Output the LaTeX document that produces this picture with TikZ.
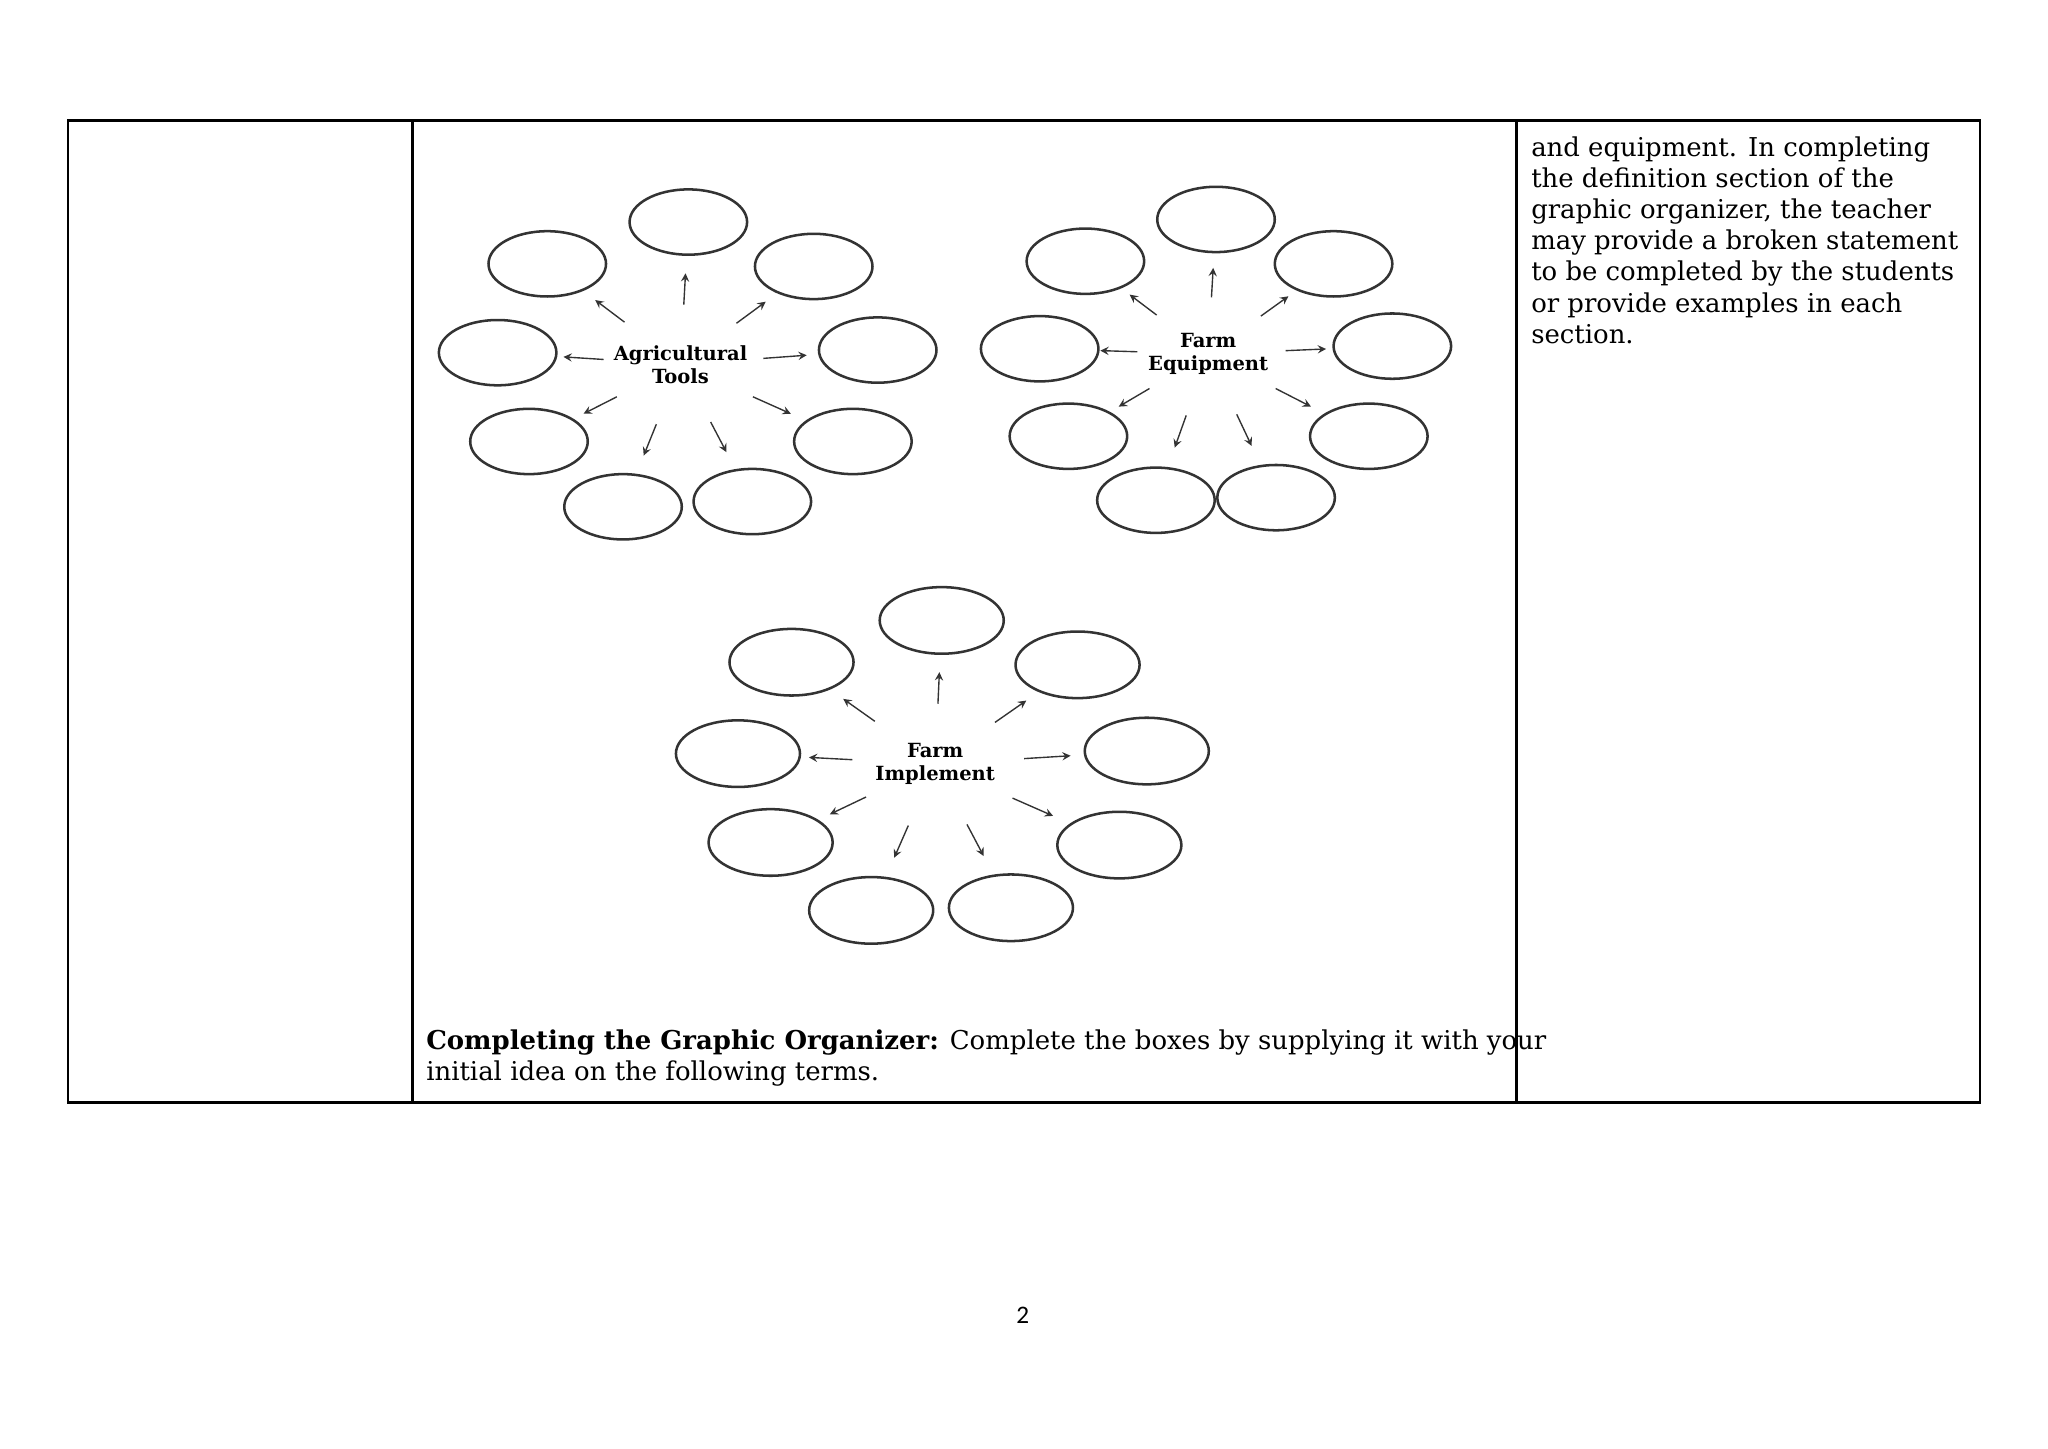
\documentclass[tikz,border=0pt]{standalone}
\usepackage{fontspec}
\setmainfont{DejaVu Serif}
\newfontfamily\pagefont{Carlito}
\usetikzlibrary{shapes.geometric,calc}
\tikzset{
 bubble/.style={draw=black!80,ellipse,line width=1.1pt,minimum width=1.8cm,minimum height=1cm},
 hub/.style={font=\fontsize{8.5}{10}\selectfont\bfseries,align=center},
 spoke/.style={->,>=stealth,line width=0.6pt,black!80},
 body/.style={font=\fontsize{11.3}{13.6}\selectfont,align=left,anchor=north west,inner sep=0pt}
}
\begin{document}
\begin{tikzpicture}[x=0.02cm,y=0.02cm]
\useasboundingbox (0,0) rectangle (1568,-1108.7);
\fill[white] (0,0) rectangle (1568,-1108.7);
% table
\draw[line width=1.2pt] (52,-92) rectangle (1516,-844);
\draw[line width=1.2pt] (316,-92) -- (316,-844);
\draw[line width=1.2pt] (1161,-92) -- (1161,-844);
% clusters
\node[hub] (c1) at (521,-279) {Agricultural\\Tools};
\node[hub] (c2) at (925,-271) {Farm\\Equipment};
\node[hub] (c3) at (716,-585) {Farm\\Implement};
\foreach \i/\x/\y in {1/527/170,2/419/202,3/623/204,4/381/270,5/672/268,6/405/338,7/653/338,8/477/388,9/576/384}{
 \node[bubble] (a\i) at (\x,-\y) {};
 \draw[spoke] ($(c1)!0.42!(a\i)$) -- ($(c1)!0.64!(a\i)$);}
\foreach \i/\x/\y in {1/931/168,2/831/200,3/1021/202,4/796/267,5/1066/265,6/818/334,7/1048/334,8/885/383,9/977/381}{
 \node[bubble] (b\i) at (\x,-\y) {};
 \draw[spoke] ($(c2)!0.42!(b\i)$) -- ($(c2)!0.64!(b\i)$);}
\foreach \i/\x/\y in {1/721/475,2/606/507,3/825/509,4/565/577,5/878/575,6/590/645,7/857/647,8/667/697,9/774/695}{
 \node[bubble,minimum width=1.9cm,minimum height=1.02cm] (d\i) at (\x,-\y) {};
 \draw[spoke] ($(c3)!0.42!(d\i)$) -- ($(c3)!0.64!(d\i)$);}
% texts
\node[body] (rt) at (1172,-104) {and equipment. In completing\\the definition section of the\\graphic organizer, the teacher\\may provide a broken statement\\to be completed by the students\\or provide examples in each\\section.};
\node[body] (bt) at (326,-788) {\textbf{Completing the Graphic Organizer:} Complete the boxes by supplying it with your\\initial idea on the following terms.};
\node[font=\pagefont\fontsize{11}{13}\selectfont] (pg) at (783,-1007) {2};
\end{tikzpicture}
\end{document}
